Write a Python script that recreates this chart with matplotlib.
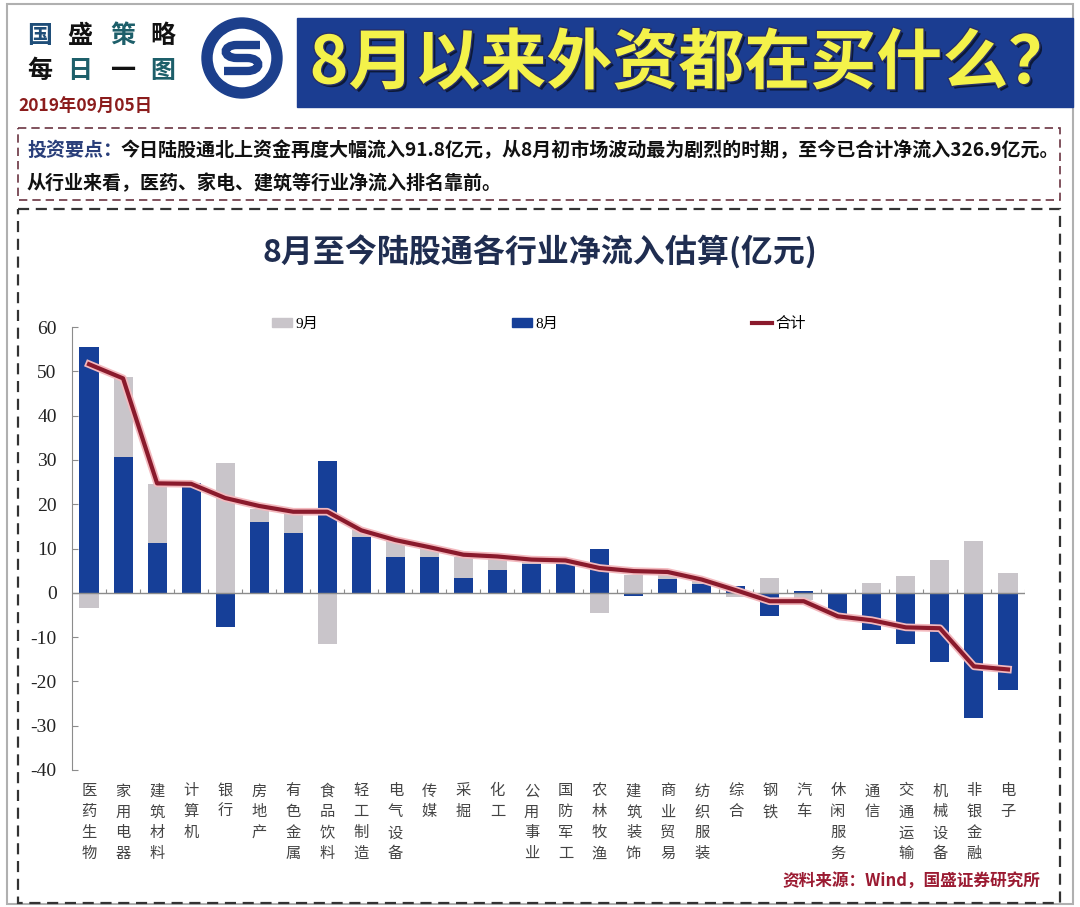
import matplotlib
matplotlib.use('Agg')
import matplotlib.pyplot as plt
import matplotlib.patches as mpatches
import matplotlib.patheffects as pe
from matplotlib.path import Path
from matplotlib.lines import Line2D
import numpy as np

### data (亿元)
industries = ['医药生物', '家用电器', '建筑材料', '计算机', '银行', '房地产', '有色金属',
              '食品饮料', '轻工制造', '电气设备', '传媒', '采掘', '化工', '公用事业',
              '国防军工', '农林牧渔', '建筑装饰', '商业贸易', '纺织服装', '综合', '钢铁',
              '汽车', '休闲服务', '通信', '交通运输', '机械设备', '非银金融', '电子']
aug = [55.5, 30.7, 11.3, 24.7, -7.8, 16.0, 13.6, 29.8, 12.5, 8.0, 8.0, 3.4, 5.1, 6.6,
       7.2, 10.0, -0.8, 3.2, 2.0, 1.5, -5.2, 0.4, -5.0, -8.3, -11.6, -15.6, -28.3, -21.9]
sep = [-3.5, 18.0, 13.2, 0.0, 29.2, 3.0, 4.3, -11.5, 1.6, 3.9, 2.2, 4.6, 2.7, 0.7,
       0.0, -4.6, 4.0, 1.4, 1.0, -0.9, 3.4, -1.6, 0.0, 2.3, 3.8, 7.5, 11.7, 4.4]
total = [51.6, 48.4, 24.7, 24.6, 21.4, 19.6, 18.3, 18.3, 14.1, 11.9, 10.3, 8.6, 8.2, 7.5,
         7.3, 5.6, 4.9, 4.7, 3.0, 0.6, -1.9, -1.9, -5.3, -6.2, -7.8, -8.0, -16.6, -17.3]
yticks = [-40, -30, -20, -10, 0, 10, 20, 30, 40, 50, 60]

header_row1 = ['国', '盛', '策', '略']
header_row2 = ['每', '日', '一', '图']
date_text = '2019年09月05日'
banner_text = '8月以来外资都在买什么？'
point_label = '投资要点：'
point_line1 = '今日陆股通北上资金再度大幅流入91.8亿元，从8月初市场波动最为剧烈的时期，至今已合计净流入326.9亿元。'
point_line2 = '从行业来看，医药、家电、建筑等行业净流入排名靠前。'
chart_title = '8月至今陆股通各行业净流入估算(亿元)'
source_text = '资料来源：Wind，国盛证券研究所'

### colours
BLUE = '#163f98'
GRAY = '#c9c5ca'
RED = '#8a1a2c'
NAVY = '#1c3f8c'

plt.rcParams['font.family'] = ['Noto Sans CJK SC', 'DejaVu Sans']
plt.rcParams['axes.unicode_minus'] = False

fig = plt.figure(figsize=(10.8, 9.07), dpi=100)

### background layer in pixel coordinates (y down)
bg = fig.add_axes([0, 0, 1, 1], zorder=0)
bg.set_xlim(0, 1080)
bg.set_ylim(907, 0)
bg.axis('off')

# outer frame
bg.add_patch(mpatches.Rectangle((7, 4), 1066, 900, fill=False, ec='#b0b0b0', lw=1.5))

# header left: 国盛策略 / 每日一图
cols1 = ['#1f4e79', '#111111', '#1d5f6a', '#111111']
cols2 = ['#111111', '#1d5f6a', '#111111', '#1d5f6a']
xs = [40, 80, 123, 163]
for ch, c, xx in zip(header_row1, cols1, xs):
    bg.text(xx, 36, ch, fontsize=18, weight='bold', color=c, ha='center', va='center')
for ch, c, xx in zip(header_row2, cols2, xs):
    bg.text(xx, 71, ch, fontsize=18, weight='bold', color=c, ha='center', va='center')
bg.text(18, 107, date_text, fontsize=12.5, weight='bold', color='#8b1c1c', ha='left', va='center')

# logo
bg.add_patch(mpatches.Wedge((242, 58), 40, 0, 360, width=10, color=NAVY))
s_verts = [(18, -13), (-5, -13), (-20, -13), (-20, 0), (-5, 0), (5, 0),
           (20, 0), (20, 13), (5, 13), (-18, 13)]
s_codes = [Path.MOVETO, Path.LINETO, Path.CURVE4, Path.CURVE4, Path.CURVE4, Path.LINETO,
           Path.CURVE4, Path.CURVE4, Path.CURVE4, Path.LINETO]
s_path = Path([(242 + a, 58 + b) for a, b in s_verts], s_codes)
bg.add_patch(mpatches.PathPatch(s_path, fill=False, ec=NAVY, lw=6, capstyle='butt'))

# banner
bg.add_patch(mpatches.Rectangle((297, 18), 776, 89, color='#1b3d91'))
bg.text(692, 64, banner_text, fontsize=47.5, weight='heavy', color='#f4f24a',
        ha='center', va='center',
        path_effects=[pe.withSimplePatchShadow(offset=(2, -2), shadow_rgbFace='#0b1530', alpha=0.9),
                      pe.Stroke(linewidth=2, foreground='#27306a'), pe.Normal()])

# key points box
bg.add_patch(mpatches.Rectangle((18, 128), 1042, 72, fill=False, ec='#6b3542', lw=1.2,
                                ls=(0, (5, 3))))
bg.text(27, 150, point_label, fontsize=13.7, weight='bold', color='#2a3f7a', ha='left', va='center')
bg.text(121, 150, point_line1, fontsize=13.7, weight='bold', color='#111111', ha='left', va='center')
bg.text(27, 183, point_line2, fontsize=13.7, weight='bold', color='#111111', ha='left', va='center')

# chart box
bg.add_patch(mpatches.Rectangle((18, 209), 1042, 694, fill=False, ec='#333333', lw=1.6,
                                ls=(0, (5, 3))))
bg.text(540, 253, chart_title, fontsize=23, weight='bold', color='#1f2d50', ha='center', va='center')
bg.text(1040, 882, source_text, fontsize=12, weight='bold', color='#9b1b32', ha='right', va='center')

### chart
ax = fig.add_axes([72 / 1080, (907 - 770) / 907, (1025 - 72) / 1080, (770 - 327) / 907], zorder=1)
ax.set_facecolor('none')

x = np.arange(len(industries))
aug_a = np.array(aug)
sep_a = np.array(sep)
sep_bottom = np.where(np.sign(sep_a) == np.sign(aug_a), aug_a, 0)

ax.bar(x, aug_a, width=0.56, color=BLUE, zorder=2)
ax.bar(x, sep_a, bottom=sep_bottom, width=0.56, color=GRAY, zorder=2)
ax.plot(x, total, color=RED, lw=3, zorder=4, solid_joinstyle='round',
        path_effects=[pe.Stroke(linewidth=5.5, foreground='#f3b9be'), pe.Normal()])

ax.axhline(0, color='#8c8c8c', lw=1, zorder=3)
ax.vlines(x + 0.5, 0, 0.8, color='#8c8c8c', lw=0.8, zorder=3)

ax.set_xlim(-0.5, 27.5)
ax.set_ylim(-40, 60)
ax.set_yticks(yticks)
ax.set_yticklabels([str(v) for v in yticks], family=['Liberation Serif'], fontsize=14, color='#222222')
ax.tick_params(axis='y', direction='in', length=4, color='#8c8c8c', pad=11)
ax.set_xticks(x)
ax.set_xticklabels(['\n'.join(s) for s in industries], fontsize=11, color='#444444',
                   linespacing=1.3, va='top')
ax.tick_params(axis='x', length=0, pad=9)
for side in ['top', 'right', 'bottom']:
    ax.spines[side].set_visible(False)
ax.spines['left'].set_color('#8c8c8c')

handles = [mpatches.Patch(color=GRAY, label='9月'),
           mpatches.Patch(color=BLUE, label='8月'),
           Line2D([], [], color=RED, lw=3, label='合计')]
fig.legend(handles=handles, loc='center', bbox_to_anchor=(0.499, 1 - 324 / 907), ncol=3,
           frameon=False, columnspacing=12.7, handlelength=1.3, handleheight=0.55,
           handletextpad=0.2, prop={'family': ['Liberation Serif', 'Noto Sans CJK SC'], 'size': 11})

fig.savefig('out.png', dpi=100)
